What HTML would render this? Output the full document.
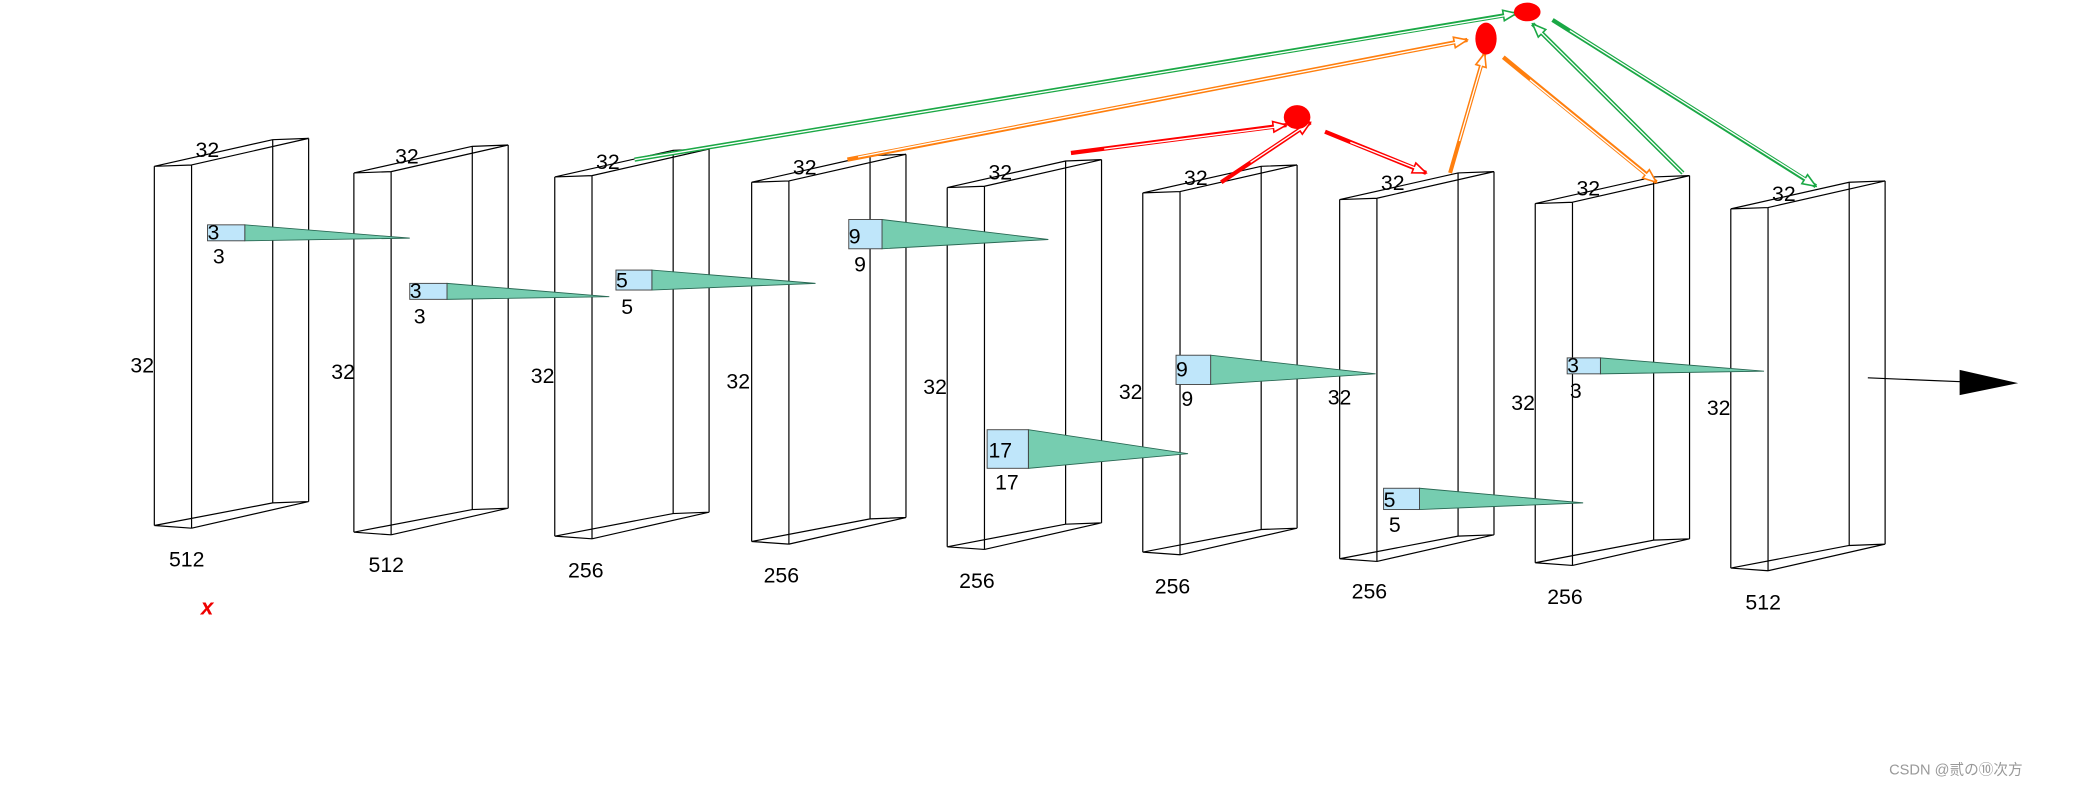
<!DOCTYPE html>
<html><head><meta charset="utf-8"><style>
html,body{margin:0;padding:0;background:#fff;}
svg{display:block;}
text{font-family:"Liberation Sans",Arial,sans-serif;font-size:16px;fill:#000;}
</style></head><body>
<svg width="2086" height="788" viewBox="0 0 1568 592.3" preserveAspectRatio="none" xmlns="http://www.w3.org/2000/svg">
<defs>
<marker id="ag" viewBox="0 0 12 10" refX="11" refY="5" markerWidth="12" markerHeight="10" markerUnits="userSpaceOnUse" orient="auto"><path d="M1,1 L11,5 L1,9 Z" fill="#fff" stroke="#1aa845" stroke-width="1.2"/></marker>
<marker id="ao" viewBox="0 0 12 10" refX="11" refY="5" markerWidth="12" markerHeight="10" markerUnits="userSpaceOnUse" orient="auto"><path d="M1,1 L11,5 L1,9 Z" fill="#fff" stroke="#ff7f0e" stroke-width="1.2"/></marker>
<marker id="ar" viewBox="0 0 12 10" refX="11" refY="5" markerWidth="12" markerHeight="10" markerUnits="userSpaceOnUse" orient="auto"><path d="M1,1 L11,5 L1,9 Z" fill="#fff" stroke="#ff0000" stroke-width="1.2"/></marker>
<g id="box" fill="none" stroke="#000" stroke-width="0.9">
<path d="M0,0 L0,270 M28,-1 L28,272 M89,-20 L89,253 M116,-21 L116,252 M0,0 L28,-1 M0,0 L89,-20 L116,-21 M28,-1 L116,-21 M0,270 L28,272 M0,270 L89,253 L116,252 M28,272 L116,252"/>
</g>
</defs>

<!-- boxes -->
<use href="#box" x="116" y="125"/>
<use href="#box" x="266" y="130"/>
<use href="#box" x="417" y="133"/>
<use href="#box" x="565" y="137"/>
<use href="#box" x="712" y="141"/>
<use href="#box" x="859" y="145"/>
<use href="#box" x="1007" y="150"/>
<use href="#box" x="1154" y="153"/>
<use href="#box" x="1301" y="157"/>

<!-- kernels -->
<g stroke="#2a6a55" stroke-width="0.7">
<polygon points="184,169 308,179 184,181" fill="#76cdb0"/>
<rect x="156" y="169" width="28" height="12" fill="#bfe6fa" stroke="#444"/>
<polygon points="336,213 458,223 336,225" fill="#76cdb0"/>
<rect x="308" y="213" width="28" height="12" fill="#bfe6fa" stroke="#444"/>
<polygon points="490,203 613,213 490,218" fill="#76cdb0"/>
<rect x="463" y="203" width="27" height="15" fill="#bfe6fa" stroke="#444"/>
<polygon points="663,165 788,180 663,187" fill="#76cdb0"/>
<rect x="638" y="165" width="25" height="22" fill="#bfe6fa" stroke="#444"/>
<polygon points="773,323 893,341 773,352" fill="#76cdb0"/>
<rect x="742" y="323" width="31" height="29" fill="#bfe6fa" stroke="#444"/>
<polygon points="910,267 1034,281 910,289" fill="#76cdb0"/>
<rect x="884" y="267" width="26" height="22" fill="#bfe6fa" stroke="#444"/>
<polygon points="1067,367 1190,378 1067,383" fill="#76cdb0"/>
<rect x="1040" y="367" width="27" height="16" fill="#bfe6fa" stroke="#444"/>
<polygon points="1203,269 1326,279 1203,281" fill="#76cdb0"/>
<rect x="1178" y="269" width="25" height="12" fill="#bfe6fa" stroke="#444"/>
</g>

<!-- labels -->
<g>
<text x="147" y="118">32</text><text x="98" y="280">32</text><text x="127" y="426">512</text>
<text x="297" y="123">32</text><text x="249" y="285">32</text><text x="277" y="430">512</text>
<text x="448" y="127">32</text><text x="399" y="288">32</text><text x="427" y="434">256</text>
<text x="596" y="131">32</text><text x="546" y="292">32</text><text x="574" y="438">256</text>
<text x="743" y="135">32</text><text x="694" y="296">32</text><text x="721" y="442">256</text>
<text x="890" y="139">32</text><text x="841" y="300">32</text><text x="868" y="446">256</text>
<text x="1038" y="143">32</text><text x="998" y="304">32</text><text x="1016" y="450">256</text>
<text x="1185" y="147">32</text><text x="1136" y="308">32</text><text x="1163" y="454">256</text>
<text x="1332" y="151">32</text><text x="1283" y="312">32</text><text x="1312" y="458">512</text>

<text x="156" y="180">3</text><text x="160" y="198">3</text>
<text x="308" y="224">3</text><text x="311" y="243">3</text>
<text x="463" y="216">5</text><text x="467" y="236">5</text>
<text x="638" y="183">9</text><text x="642" y="204">9</text>
<text x="743" y="344">17</text><text x="748" y="368">17</text>
<text x="884" y="283">9</text><text x="888" y="305">9</text>
<text x="1040" y="381">5</text><text x="1044" y="400">5</text>
<text x="1178" y="280">3</text><text x="1180" y="299">3</text>
</g>

<text x="151" y="462" style="fill:#e00;font-weight:bold;font-style:italic;font-size:17px">x</text>

<!-- output arrow -->
<line x1="1404" y1="284" x2="1476" y2="287" stroke="#000" stroke-width="0.9"/>
<polygon points="1473,278 1517,288 1473,297" fill="#000"/>

<!-- connectors -->
<g fill="none">
<line x1="477" y1="120" x2="1140" y2="10" stroke="#1aa845" stroke-width="3.2" marker-end="url(#ag)"/>
<line x1="477" y1="120" x2="1136" y2="11" stroke="#fff" stroke-width="1"/>
<line x1="1265" y1="130" x2="1152" y2="18" stroke="#1aa845" stroke-width="3.2" marker-end="url(#ag)"/>
<line x1="1265" y1="130" x2="1155" y2="21" stroke="#fff" stroke-width="1"/>
<line x1="1167" y1="15" x2="1365" y2="140" stroke="#1aa845" stroke-width="3.2" marker-end="url(#ag)"/>
<line x1="1180" y1="23" x2="1361" y2="137" stroke="#fff" stroke-width="1"/>

<line x1="637" y1="120" x2="1103" y2="30" stroke="#ff7f0e" stroke-width="3.2" marker-end="url(#ao)"/>
<line x1="645" y1="118" x2="1099" y2="31" stroke="#fff" stroke-width="1"/>
<line x1="1090" y1="130" x2="1116" y2="40" stroke="#ff7f0e" stroke-width="3" marker-end="url(#ao)"/>
<line x1="1097" y1="106" x2="1115" y2="44" stroke="#fff" stroke-width="1"/>
<line x1="1130" y1="43" x2="1245" y2="137" stroke="#ff7f0e" stroke-width="3.2" marker-end="url(#ao)"/>
<line x1="1150" y1="60" x2="1242" y2="135" stroke="#fff" stroke-width="1"/>

<line x1="805" y1="115" x2="967" y2="94" stroke="#ff0000" stroke-width="3.2" marker-end="url(#ar)"/>
<line x1="830" y1="112" x2="963" y2="95" stroke="#fff" stroke-width="1"/>
<line x1="918" y1="137" x2="985" y2="92" stroke="#ff0000" stroke-width="3.2" marker-end="url(#ar)"/>
<line x1="940" y1="122" x2="982" y2="94" stroke="#fff" stroke-width="1"/>
<line x1="996" y1="99" x2="1072" y2="130" stroke="#ff0000" stroke-width="3.2" marker-end="url(#ar)"/>
<line x1="1015" y1="107" x2="1068" y2="128" stroke="#fff" stroke-width="1"/>
</g>

<!-- red dots -->
<ellipse cx="975" cy="88" rx="10" ry="9" fill="#f00"/>
<ellipse cx="1117" cy="29" rx="8" ry="12" fill="#f00"/>
<ellipse cx="1148" cy="9" rx="10" ry="7" fill="#f00"/>

<text x="1420" y="582" style="font-size:11px;fill:#999;font-family:'Liberation Sans','Noto Sans CJK SC',sans-serif">CSDN @贰の⑩次方</text>
</svg>
</body></html>
